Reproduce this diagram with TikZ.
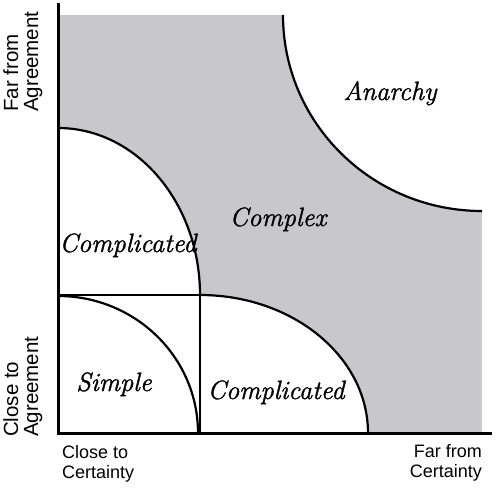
\documentclass[tikz,border=0pt]{standalone}
\usepackage{fontspec}
\newfontfamily\axisfont{Liberation Sans}
\newfontfamily\zonefont{Latin Modern Roman}[ItalicFeatures={FakeBold=1.2}]
\definecolor{zonegray}{RGB}{200,200,202}
\begin{document}
\begin{tikzpicture}[x=1pt,y=-1pt,
  zonelabel/.style={font=\zonefont\fontsize{26.5}{30}\selectfont\itshape, anchor=base, inner sep=0pt},
  axislabel/.style={font=\axisfont\fontsize{18}{20}\selectfont, inner sep=0pt},
  vaxislabel/.style={font=\axisfont\fontsize{20.5}{20}\selectfont, inner sep=0pt, rotate=90, anchor=base west, align=left},
  axisline/.style={line width=3pt},
  divline/.style={line width=2pt},
  arcline/.style={line width=2.2pt}]
\useasboundingbox (0,0) rectangle (496,488);
% shaded complex field
\fill[zonegray] (58,15) rectangle (482,433);
% white zones
\fill[white] (283,15) arc[start angle=180, end angle=90, x radius=199, y radius=196] -- (482,15) -- cycle;
\fill[white] (58,128) arc[start angle=270, end angle=360, x radius=142, y radius=167] -- (58,295) -- cycle;
\fill[white] (200,295) arc[start angle=270, end angle=360, x radius=168, y radius=138] -- (200,433) -- cycle;
\fill[white] (58,295) rectangle (200,433);
% arcs
\draw[arcline] (283,15) arc[start angle=180, end angle=90, x radius=199, y radius=196];
\draw[arcline] (58,128) arc[start angle=270, end angle=360, x radius=142, y radius=167];
\draw[arcline] (200,295) arc[start angle=270, end angle=360, x radius=168, y radius=138];
\draw[arcline] (58,296) arc[start angle=270, end angle=360, x radius=140, y radius=137];
% dividing lines
\draw[divline] (58,295) -- (200,295) -- (200,433);
% axes
\coordinate (top) at (58,3);
\coordinate (origin) at (58,433);
\coordinate (right) at (492,433);
\draw[axisline] (top) -- (origin) -- (right);
% zone labels
\node[zonelabel] (anarchy) at (390,100) {Anarchy};
\node[zonelabel] (complex) at (278,226) {Complex};
\node[zonelabel] (complup) at (128,252) {Complicated};
\node[zonelabel] (simple) at (114,391) {Simple};
\node[zonelabel] (compllow) at (276,399) {Complicated};
% axis labels
\node[vaxislabel] (faragr) at (38,112) {Far from\\Agreement};
\node[vaxislabel] (closeagr) at (38,437) {Close to\\Agreement};
\node[axislabel, anchor=base west, align=left] (closecert) at (62,478) {Close to\\Certainty};
\node[axislabel, anchor=base east, align=right] (farcert) at (482,477) {Far from\\Certainty};
\end{tikzpicture}
\end{document}
